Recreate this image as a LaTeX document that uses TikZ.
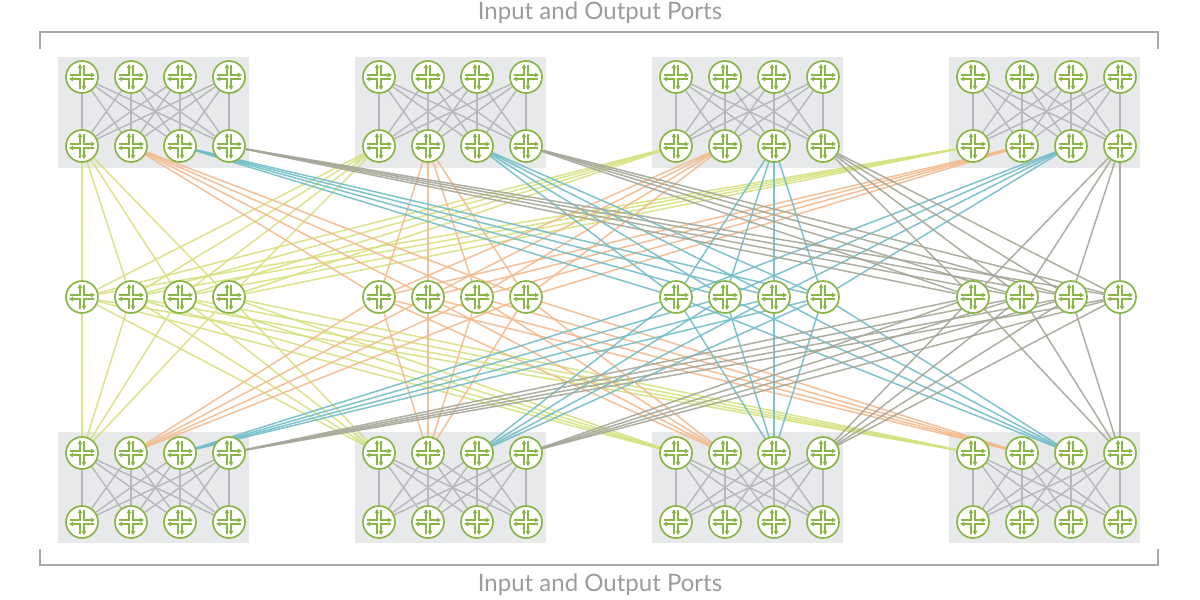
\documentclass[tikz,border=0pt]{standalone}
\usepackage{fontspec}
\setmainfont{Lato}
\usetikzlibrary{arrows.meta}
\definecolor{rgreen}{HTML}{8AB547}
\definecolor{podbg}{HTML}{E8E9EA}
\definecolor{podln}{HTML}{B6B8BC}
\definecolor{cyel}{HTML}{D5E27F}
\definecolor{cora}{HTML}{F4BA8C}
\definecolor{ctea}{HTML}{72BDC7}
\definecolor{cgry}{HTML}{A4A797}
\definecolor{brk}{HTML}{A8A8A8}
\definecolor{txt}{HTML}{9C9C9C}
\pgfdeclarelayer{back}
\pgfdeclarelayer{mid}
\pgfsetlayers{back,mid,main}
\tikzset{
  router/.style={circle,draw=rgreen,line width=1.7pt,fill=white,minimum size=32pt,inner sep=0pt,
    path picture={
      \begin{scope}[shift={(path picture bounding box.center)},draw=rgreen,line width=1.2pt,
        arr/.style={-{Triangle[length=4.2pt,width=4.6pt]}}]
        \draw[arr] (-12,-2) -- (-2,-2) -- (-2,-13);
        \draw[arr] (2,-12) -- (2,-2) -- (13,-2);
        \draw[arr] (12,2) -- (2,2) -- (2,13);
        \draw[arr] (-2,12) -- (-2,2) -- (-13,2);
      \end{scope}
    }},
  podbox/.style={fill=podbg,draw=none},
  podline/.style={draw=podln,line width=1.4pt},
  yl/.style={draw=cyel,line width=1.5pt,opacity=0.9},
  ol/.style={draw=cora,line width=1.5pt,opacity=0.9},
  tl/.style={draw=ctea,line width=1.5pt,opacity=0.9},
  gl/.style={draw=cgry,line width=1.5pt,opacity=0.9},
  bracket/.style={draw=brk,line width=1.8pt},
  lbl/.style={text=txt,font=\fontsize{24}{28}\selectfont,inner sep=0pt}
}
\begin{document}
\begin{tikzpicture}[x=1pt,y=-1pt]
\begin{pgfonlayer}{back}
\fill[white] (0,0) rectangle (1200,600);
\end{pgfonlayer}
\useasboundingbox (0,0) rectangle (1200,600);
% labels and brackets
\node[lbl] (toplbl) at (600,13) {Input and Output Ports};
\node[lbl] (botlbl) at (600,585) {Input and Output Ports};
\draw[bracket] (40,49) -- (40,32) -- (1158,32) -- (1158,49);
\draw[bracket] (40,549) -- (40,565) -- (1158,565) -- (1158,549);
% pods and routers
\foreach \p in {1,...,4}{
  \pgfmathsetmacro{\L}{58+297*(\p-1)}
  \begin{pgfonlayer}{back}
    \fill[podbox] (\L,57) rectangle ++(191,111);
    \fill[podbox] (\L,432) rectangle ++(191,111);
  \end{pgfonlayer}
  \foreach \c in {1,...,4}{
    \pgfmathsetmacro{\X}{\L+24+49*(\c-1)}
    \node[router] (T\p-1-\c) at (\X,77) {};
    \node[router] (T\p-2-\c) at (\X,146) {};
    \node[router] (B\p-1-\c) at (\X,453) {};
    \node[router] (B\p-2-\c) at (\X,522) {};
    \node[router] (S\p-\c) at (\X,297) {};
  }
}
% intra-pod meshes
\begin{pgfonlayer}{mid}
\foreach \p in {1,...,4}{
  \foreach \a in {1,...,4}{
    \foreach \b in {1,...,4}{
      \draw[podline] (T\p-1-\a) -- (T\p-2-\b);
      \draw[podline] (B\p-1-\a) -- (B\p-2-\b);
    }
  }
}
% spine links
\foreach \j/\st in {1/yl,2/ol,3/tl,4/gl}{
  \foreach \p in {1,...,4}{
    \foreach \k in {1,...,4}{
      \draw[\st] (T\p-2-\j) -- (S\j-\k);
      \draw[\st] (B\p-1-\j) -- (S\j-\k);
    }
  }
}
\end{pgfonlayer}
\end{tikzpicture}
\end{document}
